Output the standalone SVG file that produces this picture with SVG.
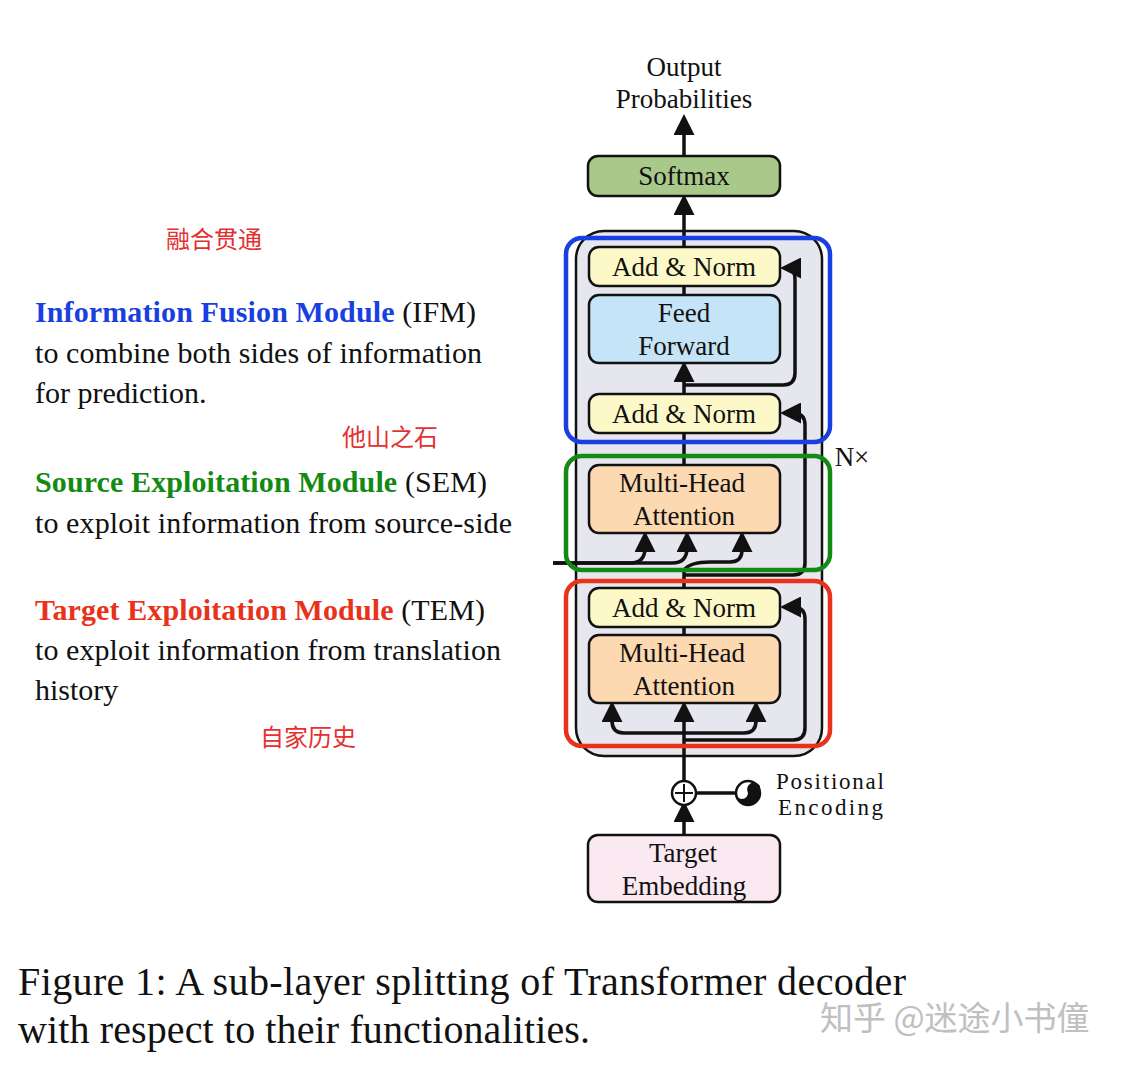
<svg xmlns="http://www.w3.org/2000/svg" width="1123" height="1065" viewBox="0 0 1123 1065">
<style>
text{font-family:"Liberation Serif",serif;fill:#111}
.b{stroke:#111;stroke-width:2.5}
.l{fill:none;stroke:#111;stroke-width:3.5}
.c{font-size:27px;text-anchor:middle}
.t{font-size:30px}
.cn{font-family:"Noto Sans CJK SC",sans-serif;font-size:24px;fill:#e53030}
</style>
<defs><marker id="a" markerWidth="6" markerHeight="6" refX="4" refY="3" orient="auto"><path d="M0,0L6,3L0,6z" fill="#111"/></marker></defs>
<rect width="1123" height="1065" fill="#fff"/>
<g id="layer"><rect x="576" y="231" width="246" height="525" rx="28" fill="#e6e6ee" stroke="#111" stroke-width="2.5"/></g>
<g id="connectors">
<path class="l" d="M684,835V808" marker-end="url(#a)"/>
<path class="l" d="M684,781V708" marker-end="url(#a)"/>
<path class="l" d="M684,733H624Q612,733 612,721V708" marker-end="url(#a)"/>
<path class="l" d="M684,733H744Q756,733 756,721V708" marker-end="url(#a)"/>
<path class="l" d="M684,740H793Q805,740 805,728V619Q805,607 793,607H787" marker-end="url(#a)"/>
<path class="l" d="M684,635V627"/>
<path class="l" d="M684,588V570Q690,562 710,562H730Q742,562 742,550V538" marker-end="url(#a)"/>
<path class="l" d="M684,575H793Q805,575 805,563V425Q805,413 793,413H787" marker-end="url(#a)"/>
<path class="l" d="M553,563H630Q645,563 645,548V538" marker-end="url(#a)"/>
<path class="l" d="M553,563H672Q687,563 687,548V538" marker-end="url(#a)"/>
<path class="l" d="M684,465V433"/>
<path class="l" d="M684,394V368" marker-end="url(#a)"/>
<path class="l" d="M684,385H783Q795,385 795,373V280Q795,268 787,268" marker-end="url(#a)"/>
<path class="l" d="M684,295V286"/>
<path class="l" d="M684,247V201" marker-end="url(#a)"/>
<path class="l" d="M684,156V121" marker-end="url(#a)"/>
<path class="l" d="M696,793H736"/>
</g>
<g id="softmax"><rect class="b" x="588" y="156" width="192" height="40" rx="10" fill="#a9c98a"/><text class="c" x="684" y="185">Softmax</text></g>
<g id="addnorm1"><rect class="b" x="589" y="247" width="191" height="39" rx="10" fill="#fdf8c8"/><text class="c" x="684" y="276">Add &amp; Norm</text></g>
<g id="ff"><rect class="b" x="589" y="295" width="191" height="68" rx="10" fill="#c5e4f7"/><text class="c" x="684" y="322">Feed</text><text class="c" x="684" y="355">Forward</text></g>
<g id="addnorm2"><rect class="b" x="589" y="394" width="191" height="39" rx="10" fill="#fdf8c8"/><text class="c" x="684" y="423">Add &amp; Norm</text></g>
<g id="mha1"><rect class="b" x="589" y="465" width="191" height="68" rx="10" fill="#fcd9b0"/><text class="c" x="682" y="492">Multi-Head</text><text class="c" x="684" y="525">Attention</text></g>
<g id="addnorm3"><rect class="b" x="589" y="588" width="191" height="39" rx="10" fill="#fdf8c8"/><text class="c" x="684" y="617">Add &amp; Norm</text></g>
<g id="mha2"><rect class="b" x="589" y="635" width="191" height="68" rx="10" fill="#fcd9b0"/><text class="c" x="682" y="662">Multi-Head</text><text class="c" x="684" y="695">Attention</text></g>
<g id="emb"><rect class="b" x="588" y="835" width="192" height="67" rx="10" fill="#fbe9f1"/><text class="c" x="683" y="862">Target</text><text class="c" x="684" y="895">Embedding</text></g>
<g id="plus"><circle cx="684" cy="793" r="12" fill="#fff" stroke="#111" stroke-width="2.5"/><path d="M684,784V802M675,793H693" stroke="#111" stroke-width="2"/></g>
<g id="pe"><circle cx="748" cy="793" r="12" fill="#fff" stroke="#111" stroke-width="2.5"/><path d="M736,793A12,12 0 0 0 760,793V786A6,6 0 0 0 748,793A6,6 0 0 1 736,793z" fill="#111"/>
<text x="776" y="789" font-size="23" textLength="108">Positional</text><text x="778" y="815" font-size="23" textLength="105">Encoding</text></g>
<g id="out"><text class="c" x="684" y="76">Output</text><text class="c" x="684" y="108">Probabilities</text></g>
<text class="c" x="852" y="466">N×</text>
<g id="modules" fill="none" stroke-width="4.5">
<rect x="566" y="238" width="264" height="204" rx="16" stroke="#1a3fe0"/>
<rect x="566" y="456" width="264" height="114" rx="16" stroke="#138a13"/>
<rect x="566" y="581" width="264" height="165" rx="16" stroke="#e8321a"/>
</g>
<g id="texts">
<text class="t" x="35" y="322" textLength="441"><tspan fill="#1a3fe0" font-weight="bold">Information Fusion Module</tspan> (IFM)</text>
<text class="t" x="35" y="363" textLength="447">to combine both sides of information</text>
<text class="t" x="35" y="403">for prediction.</text>
<text class="t" x="35" y="492" textLength="452"><tspan fill="#138a13" font-weight="bold">Source Exploitation Module</tspan> (SEM)</text>
<text class="t" x="35" y="533" textLength="477">to exploit information from source-side</text>
<text class="t" x="35" y="620" textLength="450"><tspan fill="#e8321a" font-weight="bold">Target Exploitation Module</tspan> (TEM)</text>
<text class="t" x="35" y="660" textLength="466">to exploit information from translation</text>
<text class="t" x="35" y="700">history</text>
<text class="cn" x="166" y="248">融合贯通</text>
<text class="cn" x="342" y="446">他山之石</text>
<text class="cn" x="260" y="746">自家历史</text>
<text x="18" y="995" font-size="40" textLength="888">Figure 1: A sub-layer splitting of Transformer decoder</text>
<text x="18" y="1043" font-size="40" textLength="572">with respect to their functionalities.</text>
<text x="820" y="1030" style="fill:#c0c0c0;font-family:'Noto Sans CJK SC',sans-serif;font-size:33px">知乎 @迷途小书僮</text>
</g>
</svg>
